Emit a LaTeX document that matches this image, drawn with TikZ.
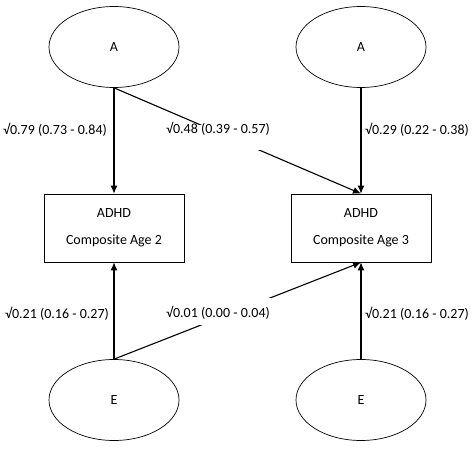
\documentclass[tikz,border=0pt]{standalone}
\usepackage{fontspec}
\setmainfont{Carlito}
\usetikzlibrary{positioning,arrows.meta,shapes.geometric}

\tikzset{
  latent/.style={draw,ellipse,line width=0.7pt,minimum width=130pt,minimum height=81pt,inner sep=0pt,font=\fontsize{14}{16}\selectfont},
  measure/.style={draw,rectangle,line width=0.7pt,minimum width=140pt,minimum height=68pt,align=center,font=\fontsize{14}{27}\selectfont},
  path/.style={-{Latex[length=8pt,width=7pt]},line width=1.1pt},
  est/.style={font=\fontsize{14}{16}\selectfont,inner sep=0pt},
  cover/.style={est,fill=white,anchor=base,inner xsep=1pt}
}

\begin{document}
\begin{tikzpicture}[x=1pt,y=-1pt]
	\useasboundingbox (0,0) rectangle (474,454);
	\node (a1) [latent] at (114,47)  {A};
	\node (a2) [latent] at (361,47)  {A};
	
	\node (b1) [measure] at (114,228) {ADHD\\Composite Age 2};
	\node (b2) [measure] at (361,228) {ADHD\\Composite Age 3};
	
	\node (e1) [latent] at (114,400) {E};
	\node (e2) [latent] at (361,400) {E};
	
	\draw [path] (a1.south) -- (b1.north);
	\draw [path] (a1.south) -- (b2.north);
	\draw [path] (a2.south) -- (b2.north);
	\draw [path] (e1.north) -- (b1.south);
	\draw [path] (e1.north) -- (b2.south);
	\draw [path] (e2.north) -- (b2.south);
	
	% estimates
	\node (la1) [est] at (55,130)  {√0.79 (0.73 - 0.84)};
	\node (la2) [cover,text height=9pt,text depth=16pt] at (218,134) {√0.48 (0.39 - 0.57)};
	\node (la3) [est] at (417,130) {√0.29 (0.22 - 0.38)};
	\node (le1) [est] at (57,314)  {√0.21 (0.16 - 0.27)};
	\node (le2) [cover,text height=20pt,text depth=7pt] at (218,318) {√0.01 (0.00 - 0.04)};
	\node (le3) [est] at (417,314) {√0.21 (0.16 - 0.27)};
\end{tikzpicture}
\end{document}
